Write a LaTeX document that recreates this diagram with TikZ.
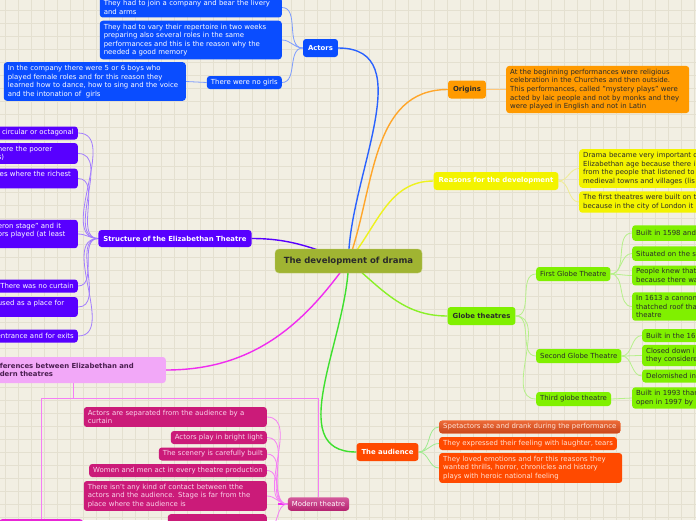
\documentclass[tikz,border=0pt]{standalone}
\usepackage{fontspec}
\setmainfont{DejaVu Sans}
\usepackage{xcolor}
\usetikzlibrary{positioning, backgrounds}

\definecolor{paper}{HTML}{F2EFE3}
\definecolor{gridc}{HTML}{E4E0D0}
\definecolor{hubc}{HTML}{A0B432}
\definecolor{actblue}{HTML}{0A4DFF}
\definecolor{actline}{HTML}{2A62FF}
\definecolor{actlink}{HTML}{7C9CFF}
\definecolor{strpur}{HTML}{5800FF}
\definecolor{strlink}{HTML}{A27CFF}
\definecolor{diffpink}{HTML}{F2A8F8}
\definecolor{difftext}{HTML}{4A1E50}
\definecolor{diffline}{HTML}{F02CF0}
\definecolor{bracketc}{HTML}{F57EF5}
\definecolor{modtop}{HTML}{D45A9C}
\definecolor{modbot}{HTML}{B5226F}
\definecolor{modleaf}{HTML}{CB1B79}
\definecolor{modtext}{HTML}{FAD4EA}
\definecolor{orig}{HTML}{FF9A00}
\definecolor{origline}{HTML}{FFA62A}
\definecolor{origlink}{HTML}{FFC77A}
\definecolor{reas}{HTML}{F3F300}
\definecolor{reasline}{HTML}{EEF21E}
\definecolor{reaslink}{HTML}{EEEC92}
\definecolor{globe}{HTML}{80F000}
\definecolor{globeline}{HTML}{8AF028}
\definecolor{globelink}{HTML}{B6F08A}
\definecolor{aud}{HTML}{FF4A00}
\definecolor{audline}{HTML}{3EE02E}
\definecolor{audlink}{HTML}{9EEB8E}
\definecolor{audtop}{HTML}{EC6A38}
\definecolor{audbot}{HTML}{C9461A}
\definecolor{audtext}{HTML}{FFE2D4}
\definecolor{darktext}{HTML}{2A2A2A}

\begin{document}
\begin{tikzpicture}[
  x=1pt, y=-1pt,
  hub/.style={rectangle, rounded corners=4pt, fill=hubc, draw=hubc!70!white,
              minimum width=147pt, minimum height=24pt, text=darktext,
              font=\bfseries\fontsize{8.5}{10}\selectfont},
  topic/.style={rectangle, rounded corners=3pt, inner xsep=5pt, inner ysep=3pt,
                minimum height=18pt, font=\bfseries\fontsize{6.9}{8.6}\selectfont},
  leaf/.style={rectangle, rounded corners=3pt, inner xsep=4pt, inner ysep=3pt,
               minimum height=13pt, align=left, font=\fontsize{6.95}{8.6}\selectfont},
  actleaf/.style={leaf, fill=actblue, text=white, anchor=east},
  strleaf/.style={leaf, fill=strpur, text=white, anchor=east, text width=76pt},
  strline/.style={strleaf, align=right, text width=84pt},
  modleafbox/.style={leaf, fill=modleaf, text=modtext, anchor=east},
  greenleaf/.style={leaf, fill=globe, text=darktext, anchor=west},
  audleaf/.style={leaf, fill=aud, text=audtext, anchor=west},
  branch/.style={line width=1.4pt},
  link/.style={line width=0.8pt},
  bracket/.style={draw=bracketc, line width=0.9pt}
]
\useasboundingbox (0,0) rectangle (696,520);
\clip (0,0) rectangle (696,520);

% paper and grid
\begin{scope}[on background layer]
  \fill[paper] (0,0) rectangle (696,520);
  \foreach \gx in {5,18,...,696} \draw[gridc, line width=0.5pt] (\gx,0) -- (\gx,520);
  \foreach \gy in {10,23,...,520} \draw[gridc, line width=0.5pt] (0,\gy) -- (696,\gy);
\end{scope}

% centre
\node[hub] (hub) at (348.5,261) {The development of drama};

% actors
\node[topic, fill=actblue, text=white] (actors) at (320.5,48) {Actors};
\node[actleaf, text width=174pt] (livery) at (282,7.5) {They had to join a company and bear the livery\\and arms};
\node[actleaf, text width=174pt] (memory) at (282,40) {They had to vary their repertoire in two weeks\\preparing also several roles in the same\\performances and this is the reason why the\\needed a good memory};
\node[actleaf] (nogirls) at (282,82.5) {There were no girls};
\node[actleaf, text width=174pt] (boys) at (186,81.5) {In the company there were 5 or 6 boys who\\played female roles and for this reason they\\learned how to dance, how to sing and the voice\\and the intonation of\ \ girls};

% structure
\node[topic, fill=strpur, text=white, minimum height=17pt] (struct) at (175,238.5) {Structure of the Elizabethan Theatre};
\node[strline] (shape) at (78,133) {circular or octagonal};
\node[strleaf] (pit) at (78,153.5) {here the poorer\\s)};
\node[strleaf] (galleries) at (78,178.5) {les where the richest\\\mbox{}};
\node[strleaf] (apron) at (78,234) {eron stage" and it\\ors played (at least\\\mbox{}};
\node[strline] (curtain) at (78,286) {There was no curtain};
\node[strleaf] (place) at (78,307) {used as a place for\\\mbox{}};
\node[strline] (exits) at (78,336) {entrance and for exits};

% differences
\node[topic, fill=diffpink, text=difftext, anchor=east, text width=162pt, inner xsep=4pt,
      align=left, minimum height=26pt] (diff) at (166,370) {ferences between Elizabethan and\\dern theatres};
\node[rectangle, rounded corners=3pt, fill=diffline!85!purple, minimum width=84pt, minimum height=14pt, anchor=north] (eliz) at (41,519) {};
\node[topic, top color=modtop, bottom color=modbot, text=white, font=\fontsize{6.9}{8.6}\selectfont,
      minimum height=13.5pt, inner ysep=2pt, inner xsep=4pt] (modern) at (318.5,504) {Modern theatre};
\node[modleafbox, text width=175pt] (sep) at (267,417) {Actors are separated from the audience by a\\curtain};
\node[modleafbox] (bright) at (267,437.5) {Actors play in bright light};
\node[modleafbox] (scenery) at (267,454) {The scenery is carefully built};
\node[modleafbox] (women) at (267,470.5) {Women and men act in every theatre production};
\node[modleafbox, text width=175pt] (contact) at (267,496) {There isn't any kind of contact between tthe\\actors and the audience. Stage is far from the\\place where the audience is};
\node[rectangle, rounded corners=3pt, fill=modleaf, minimum width=99pt, minimum height=30pt, anchor=north east] (lastmod) at (267,514) {};
\path (diff.south) ++(-7,15) coordinate (fork);

% origins
\node[topic, fill=orig, text=darktext] (origins) at (467,89.5) {Origins};
\node[leaf, fill=orig, text=darktext, anchor=west, text width=175pt] (mystery) at (506,89.5) {At the beginning performances were religious\\celebration in the Churches and then outside.\\This performances, called "mystery plays" were\\acted by laic people and not by monks and they\\were played in English and not in Latin};

% reasons
\node[topic, fill=reas, text=white] (reasons) at (496,181) {Reasons for the development};
\node[leaf, fill=reas, text=darktext, anchor=west, text width=160pt] (important) at (579,168.5) {Drama became very important d\\Elizabethan age because there i\\from the people that listened to\\medieval towns and villages (lis};
\node[leaf, fill=reas, text=darktext, anchor=west, text width=160pt] (firstbuilt) at (579,202) {The first theatres were built on t\\because in the city of London it};

% globe theatres
\node[topic, fill=globe, text=darktext] (globe) at (481.5,316) {Globe theatres};
\node[greenleaf, minimum height=14pt] (first) at (536,274) {First Globe Theatre};
\node[greenleaf, minimum height=14pt] (second) at (536,356) {Second Globe Theatre};
\node[greenleaf, minimum height=14pt] (third) at (536,399) {Third globe theatre};
\node[greenleaf, text width=100pt, minimum height=15.5pt] (f1) at (632,233) {Built in 1598 and};
\node[greenleaf, text width=100pt, minimum height=14.5pt] (f2) at (632,253.5) {Situated on the s};
\node[greenleaf, text width=100pt] (f3) at (632,275.5) {People knew that\\because there wa};
\node[greenleaf, text width=100pt] (f4) at (632,306.5) {In 1613 a cannon\\thatched roof tha\\theatre};
\node[greenleaf, text width=100pt] (g1) at (642,335.5) {Built in the 16};
\node[greenleaf, text width=100pt] (g2) at (642,355.5) {Closed down i\\they considere};
\node[greenleaf, text width=100pt] (g3) at (642,376) {Delomished in};
\node[greenleaf, text width=100pt] (t1) at (632,398) {Built in 1993 than\\open in 1997 by};

% audience
\node[topic, fill=aud, text=white] (audience) at (387.5,452) {The audience};
\node[audleaf, top color=audtop, bottom color=audbot, minimum height=12pt] (ate) at (439,427) {Spetactors ate and drank during the performance};
\node[audleaf] (feeling) at (439,443.5) {They expressed their feeling with laughter, tears};
\node[audleaf, text width=175pt] (emotions) at (439,468) {They loved emotions and for this reasons they\\wanted thrills, horror, chronicles and history\\plays with heroic national feeling};

% connectors
\begin{scope}[on background layer]
  \draw[branch, actline] (hub.center) to[out=90, in=0] (actors.east);
  \draw[branch, origline] (hub.center) to[out=70, in=180] (origins.west);
  \draw[branch, reasline] (hub.center) to[out=50, in=180] (reasons.west);
  \draw[branch, strpur] (hub.center) to[out=160, in=0] (struct.east);
  \draw[branch, diffline] (hub.center) to[out=235, in=0] (diff.east);
  \draw[branch, globeline] (hub.center) to[out=-40, in=180] (globe.west);
  \draw[branch, audline] (hub.center) to[out=-90, in=180] (audience.west);

  \foreach \n in {livery, memory, nogirls}
    \draw[link, actlink] (actors.west) to[out=180, in=0] (\n.east);
  \draw[link, actlink] (nogirls.west) -- (boys.east);

  \foreach \n in {shape, pit, galleries, apron, curtain, place, exits}
    \draw[link, strlink] (struct.west) to[out=180, in=0] (\n.east);

  \draw[bracket] (diff.south -| fork) -- (fork);
  \draw[bracket] (eliz.north) |- (fork) -| (modern.north);
  \draw[line width=1.4pt, diffline] (modern.west) -- ++(-10,0);
  \foreach \n in {sep, bright, scenery, women, contact, lastmod}
    \draw[link, bracketc] (modern.west) to[out=180, in=0] (\n.east);

  \draw[link, origlink] (origins.east) -- (mystery.west);
  \foreach \n in {important, firstbuilt}
    \draw[link, reaslink] (reasons.east) to[out=0, in=180] (\n.west);
  \foreach \n in {first, second, third}
    \draw[link, globelink] (globe.east) to[out=0, in=180] (\n.west);
  \foreach \n in {f1, f2, f3, f4}
    \draw[link, globelink] (first.east) to[out=0, in=180] (\n.west);
  \foreach \n in {g1, g2, g3}
    \draw[link, globelink] (second.east) to[out=0, in=180] (\n.west);
  \draw[link, globelink] (third.east) -- (t1.west);
  \foreach \n in {ate, feeling, emotions}
    \draw[link, audlink] (audience.east) to[out=0, in=180] (\n.west);
\end{scope}
\end{tikzpicture}
\end{document}
